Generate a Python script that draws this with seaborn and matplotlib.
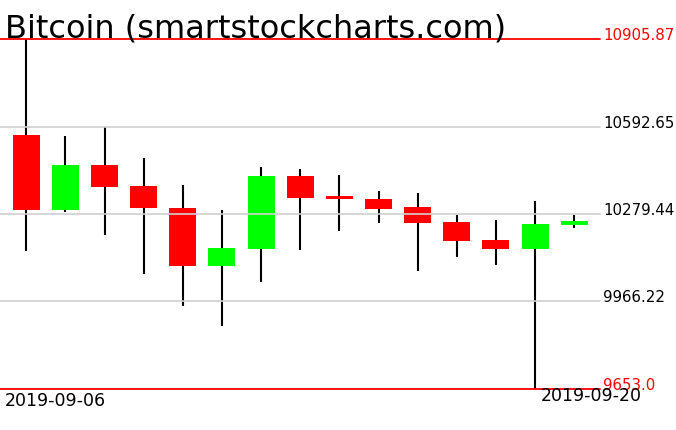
import matplotlib
matplotlib.use("Agg")
import matplotlib.pyplot as plt
import matplotlib.transforms as mtransforms
import seaborn as sns

# daily OHLC
dates = ["2019-09-06", "2019-09-07", "2019-09-08", "2019-09-09", "2019-09-10",
         "2019-09-11", "2019-09-12", "2019-09-13", "2019-09-14", "2019-09-15",
         "2019-09-16", "2019-09-17", "2019-09-18", "2019-09-19", "2019-09-20"]
opens = [10562.2, 10294.8, 10454.8, 10379.7, 10300.9, 10094.4, 10155.3, 10415.5,
         10343.9, 10333.2, 10304.5, 10250.8, 10186.4, 10155.3, 10240.1]
closes = [10294.8, 10454.8, 10377.2, 10302.0, 10094.4, 10157.8, 10415.5, 10336.7,
          10334.2, 10297.4, 10247.3, 10182.8, 10155.3, 10243.7, 10254.4]
highs = [10905.87, 10558.7, 10590.9, 10479.9, 10383.3, 10293.8, 10447.7, 10440.6,
         10419.1, 10361.8, 10354.6, 10275.9, 10258.0, 10326.0, 10275.9]
lows = [10148.1, 10287.7, 10204.3, 10065.8, 9951.2, 9878.6, 10037.1, 10151.7,
        10219.7, 10247.3, 10075.4, 10126.6, 10098.0, 9653.0, 10229.4]

price_ticks = [10905.87, 10592.65, 10279.44, 9966.22, 9653.0]
title = "Bitcoin (smartstockcharts.com)"

sns.set_style("white")
plt.rcParams["font.family"] = ["DejaVu Sans"]
plt.rcParams["text.color"] = "black"

fig = plt.figure(figsize=(6.76, 4.31), dpi=100)
ax = fig.add_axes([0.0, 41 / 431, 600 / 676, 350 / 431])

xs = list(range(len(dates)))
colors = ["#00ff00" if c >= o else "#ff0000" for o, c in zip(opens, closes)]
bottoms = [min(o, c) for o, c in zip(opens, closes)]
heights = [max(abs(c - o), 8) for o, c in zip(opens, closes)]

ax.vlines(xs, lows, highs, color="black", linewidth=1.5, zorder=1)
ax.bar(xs, heights, bottom=bottoms, width=0.69, color=colors, linewidth=0, zorder=2)

for p in price_ticks:
    edge = p in (price_ticks[0], price_ticks[-1])
    ax.axhline(p, color="#ff0000" if edge else "#d0d0d0",
               linewidth=1.3 if edge else 1.2, zorder=4 if edge else 3,
               clip_on=False)

ax.set_xlim(-0.672, 14.66)
ax.set_ylim(price_ticks[-1], price_ticks[0])
ax.set_xticks([])
ax.set_yticks([])
sns.despine(ax=ax, left=True, bottom=True, right=True, top=True)

trans = mtransforms.blended_transform_factory(ax.transAxes, ax.transData)
for p in price_ticks:
    edge = p in (price_ticks[0], price_ticks[-1])
    ax.text(1.005, p, str(p), transform=trans, ha="left", va="baseline",
            fontsize=10.8, color="#ff0000" if edge else "black", clip_on=False)

fig.text(5 / 676, 1 - 38 / 431, title, fontsize=23, color="black",
         ha="left", va="baseline")
fig.text(5 / 676, 25 / 431, dates[0], fontsize=12.5, color="black",
         ha="left", va="baseline")
fig.text(541 / 676, 30 / 431, dates[-1], fontsize=12.5, color="black",
         ha="left", va="baseline")

fig.savefig("out.png", dpi=100)
